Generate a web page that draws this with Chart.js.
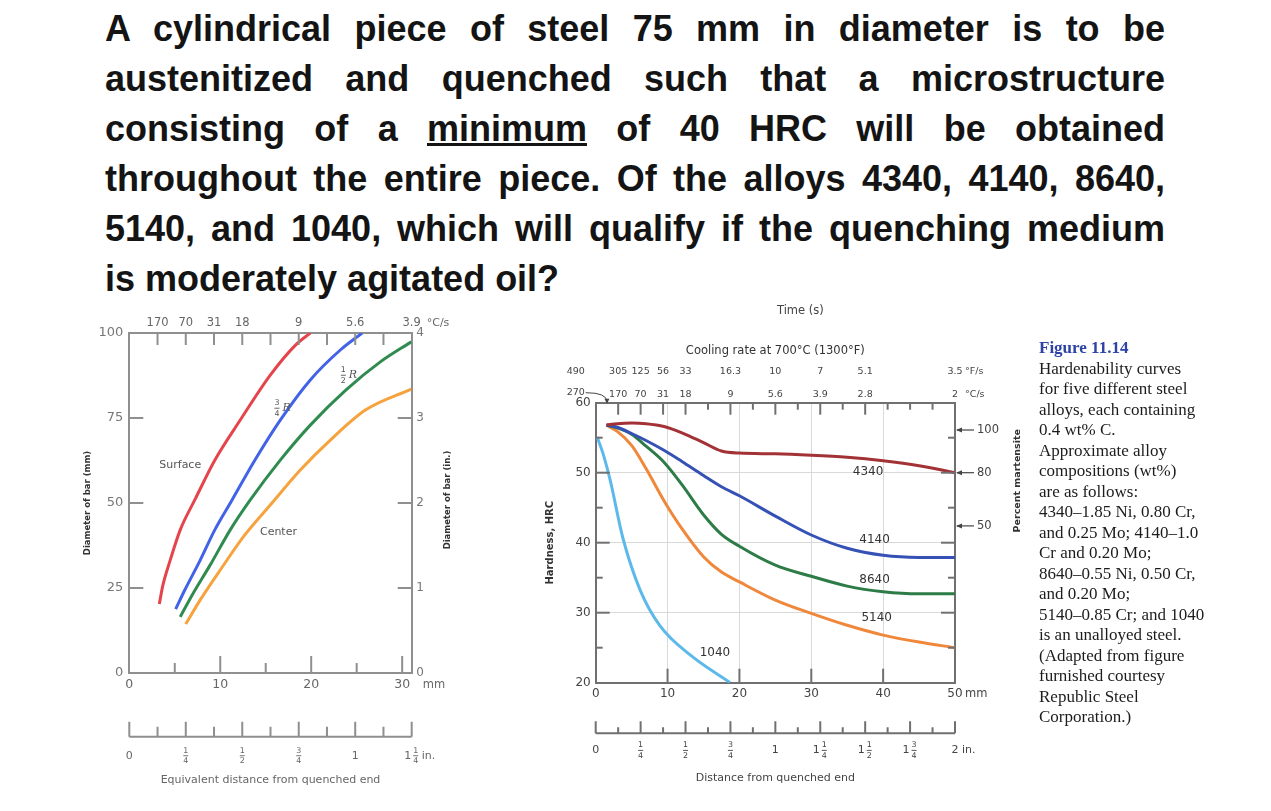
<!DOCTYPE html>
<html lang="en">
<head>
<meta charset="UTF-8">
<meta name="viewport" content="width=device-width, initial-scale=1.0">
<title>Hardenability curves</title>
<script src="https://cdn.jsdelivr.net/npm/chart.js"></script>
<style>
  body { margin: 0; width: 1271px; height: 811px; background: #fff; position: relative; overflow: hidden; }
  #question { position: absolute; left: 105px; top: 4px; width: 1060px; font-family: "Liberation Sans", Arial, sans-serif;
              font-weight: bold; font-size: 36px; line-height: 50px; color: #141414; }
  #question div { text-align: justify; text-align-last: justify; }
  #question div.last { text-align-last: left; }
  canvas { position: absolute; }
  #leftChart { left: 60px; top: 290px; }
  #rightChart { left: 520px; top: 290px; }
  #caption { position: absolute; left: 1039px; top: 338px; font-family: "Liberation Serif", "DejaVu Serif", serif;
             font-size: 17px; line-height: 20.5px; color: #1c1c1c; white-space: nowrap; }
  #caption .fig { color: #2d43a6; font-weight: bold; }
</style>
</head>
<body>

<div id="question">
  <div>A cylindrical piece of steel 75 mm in diameter is to be</div>
  <div>austenitized and quenched such that a microstructure</div>
  <div>consisting of a <u>minimum</u> of 40 HRC will be obtained</div>
  <div>throughout the entire piece. Of the alloys 4340, 4140, 8640,</div>
  <div>5140, and 1040, which will qualify if the quenching medium</div>
  <div class="last">is moderately agitated oil?</div>
</div>

<canvas id="leftChart" width="430" height="521"></canvas>
<canvas id="rightChart" width="520" height="521"></canvas>

<div id="caption"><span class="fig">Figure 11.14</span><br>
Hardenability curves<br>
for five different steel<br>
alloys, each containing<br>
0.4 wt% C.<br>
Approximate alloy<br>
compositions (wt%)<br>
are as follows:<br>
4340–1.85 Ni, 0.80 Cr,<br>
and 0.25 Mo; 4140–1.0<br>
Cr and 0.20 Mo;<br>
8640–0.55 Ni, 0.50 Cr,<br>
and 0.20 Mo;<br>
5140–0.85 Cr; and 1040<br>
is an unalloyed steel.<br>
(Adapted from figure<br>
furnished courtesy<br>
Republic Steel<br>
Corporation.)</div>

<script>
// ---- left figure: bar diameter vs equivalent distance from quenched end ----
const leftCurveNames = ['Surface', '3/4 R', '1/2 R', 'Center'];
const surfaceMm  = [3.3, 3.7, 4.5, 5.6, 7.2, 9.4, 12.2, 15.5, 18.3, 19.9];
const surfaceDia = [20.3, 25.9, 33.2, 42.1, 50.9, 62.6, 74.4, 87.6, 96.5, 100];
const threeQuarterMm  = [5.1, 6.1, 7.8, 9.4, 11.3, 13.8, 16.6, 19.9, 23.2, 25.6];
const threeQuarterDia = [18.8, 24.4, 33.2, 42.1, 50.9, 62.6, 74.4, 86.2, 95.0, 100];
const halfMm  = [5.6, 6.9, 8.9, 11.1, 13.3, 16.6, 19.9, 23.8, 27.6, 31.0];
const halfDia = [16.5, 22.9, 31.8, 42.1, 50.9, 62.6, 72.9, 83.2, 91.5, 97.4];
const centerMm  = [6.2, 7.8, 10.0, 12.7, 15.5, 18.8, 22.1, 26.0, 31.0];
const centerDia = [14.4, 21.5, 30.3, 40.6, 49.4, 59.7, 68.5, 77.4, 83.5];

const leftMmTicks = [0, 10, 20, 30];
const leftDiaTicks = [0, 25, 50, 75, 100];
const leftInchTicks = [0, 1, 2, 3, 4];
const leftEighths = [0.125, 0.25, 0.375, 0.5, 0.625, 0.75, 0.875, 1, 1.125, 1.25];
const leftRateC = ['170', '70', '31', '18', '', '9', '', '5.6', '', '3.9'];
const leftRulerMajor = [0, 0.25, 0.5, 0.75, 1, 1.25];
const leftRulerMinor = [0.125, 0.375, 0.625, 0.875, 1.125];
const leftRulerLabels = ['0', '1/4', '1/2', '3/4', '1', '1 1/4'];

// ---- right figure: Jominy hardness curves ----
const alloyNames = ['4340', '4140', '8640', '5140', '1040'];
const jominyMm = [1.5, 3, 5, 7, 9.5, 12, 15, 17.5, 20, 25, 30, 35, 40, 45, 50];
const hrc4340 = [56.8, 57.0, 57.1, 57.0, 56.6, 55.7, 54.3, 53.1, 52.8, 52.7, 52.5, 52.2, 51.7, 51.0, 50.0];
const hrc4140 = [56.8, 56.5, 55.6, 54.6, 53.2, 51.6, 49.6, 48.0, 46.7, 43.8, 41.1, 39.2, 38.2, 37.9, 37.9];
const hrc8640 = [56.8, 56.4, 55.5, 53.8, 51.5, 48.3, 44.0, 41.2, 39.5, 36.8, 35.2, 33.8, 33.0, 32.7, 32.7];
const hrc5140 = [56.8, 55.9, 53.9, 50.6, 46.0, 42.0, 38.0, 35.8, 34.4, 31.8, 29.9, 28.2, 26.8, 25.8, 25.0];
const mm1040  = [0.2, 1.0, 2.0, 3.8, 6.2, 8.9, 13.1, 18.7];
const hrc1040 = [55.1, 52.8, 49.0, 40.6, 33.2, 28.2, 24.0, 20.0];

const rightMmTicks = [0, 10, 20, 30, 40, 50];
const hrcTicks = [20, 30, 40, 50, 60];
const hrcMinor = [25, 35, 45, 55];
const rightEighths = [0.125, 0.25, 0.375, 0.5, 0.625, 0.75, 0.875, 1, 1.125, 1.25, 1.375, 1.5, 1.625, 1.75, 1.875, 2];
const rightRateF = ['305', '125', '56', '33', '', '16.3', '', '10', '', '7', '', '5.1', '', '', '', '3.5'];
const rightRateC = ['170', '70', '31', '18', '', '9', '', '5.6', '', '3.9', '', '2.8', '', '', '', '2'];
const quenchEndRate = ['490', '270'];
const martensitePct = ['100', '80', '50'];
const martensiteHrc = [56.1, 50, 42.4];
const rightRulerMajor = [0, 0.25, 0.5, 0.75, 1, 1.25, 1.5, 1.75, 2];
const rightRulerMinor = [0.125, 0.375, 0.625, 0.875, 1.125, 1.375, 1.625, 1.875];
const rightRulerLabels = ['0', '1/4', '1/2', '3/4', '1', '1 1/4', '1 1/2', '1 3/4', '2'];

Chart.defaults.font.family = '"DejaVu Sans", sans-serif';

function points(xs, ys) { return xs.map((x, i) => ({ x: x, y: ys[i] })); }
function curve(xs, ys, color) {
  return { data: points(xs, ys), borderColor: color, borderWidth: 3, pointRadius: 0, fill: false,
           cubicInterpolationMode: 'monotone' };
}
function fixWidth(w) { return function (s) { s.width = w; }; }
function fixHeight(h) { return function (s) { s.height = h; }; }
function tickList(values) { return function (s) { s.ticks = values.map(v => ({ value: v })); }; }

// labels like "1 3/4", "1/2" or "3/4 R" with a stacked fraction
function drawFrac(ctx, label, x, y, size, color) {
  let whole = '', frac = null, suffix = '';
  label.split(' ').forEach(t => {
    if (t.indexOf('/') > 0) frac = t.split('/');
    else if (frac) suffix = t;
    else whole = t;
  });
  const fs = size * 0.72;
  const big = size + 'px "DejaVu Sans"';
  const small = fs + 'px "DejaVu Sans"';
  const ital = 'italic ' + size + 'px "DejaVu Serif"';
  ctx.font = big;
  const ww = whole ? ctx.measureText(whole).width + (frac ? 1 : 0) : 0;
  ctx.font = small;
  const fw = frac ? Math.max(ctx.measureText(frac[0]).width, ctx.measureText(frac[1]).width) + 2 : 0;
  ctx.font = ital;
  const sw = suffix ? ctx.measureText(suffix).width + 2 : 0;
  let cx = x - (ww + fw + sw) / 2;
  ctx.fillStyle = color;
  ctx.textBaseline = 'middle';
  if (whole) { ctx.font = big; ctx.textAlign = 'left'; ctx.fillText(whole, cx, y); cx += ww; }
  if (frac) {
    ctx.font = small; ctx.textAlign = 'center';
    ctx.fillText(frac[0], cx + fw / 2, y - fs * 0.62);
    ctx.fillText(frac[1], cx + fw / 2, y + fs * 0.7);
    ctx.fillRect(cx + 1, y - 0.4, fw - 2, 0.9);
    cx += fw;
  }
  if (suffix) { ctx.font = ital; ctx.textAlign = 'left'; ctx.fillText(suffix, cx + 2, y); }
}

function vText(ctx, text, x, y, font, color) {
  ctx.save();
  ctx.translate(x, y);
  ctx.rotate(-Math.PI / 2);
  ctx.font = font; ctx.fillStyle = color;
  ctx.textAlign = 'center'; ctx.textBaseline = 'middle';
  ctx.fillText(text, 0, 0);
  ctx.restore();
}

// tick marks pointing into the plot
const innerTicks = {
  id: 'innerTicks',
  afterDatasetsDraw(chart, args, o) {
    const ctx = chart.ctx, a = chart.chartArea;
    ctx.save();
    ctx.strokeStyle = o.color;
    ctx.lineWidth = o.width;
    o.marks.forEach(m => {
      const s = chart.scales[m.scale];
      m.values.forEach(v => {
        const p = s.getPixelForValue(v);
        ctx.beginPath();
        if (s.position === 'bottom') { ctx.moveTo(p, a.bottom); ctx.lineTo(p, a.bottom - m.len); }
        else if (s.position === 'top') { ctx.moveTo(p, a.top); ctx.lineTo(p, a.top + m.len); }
        else if (s.position === 'left') { ctx.moveTo(a.left, p); ctx.lineTo(a.left + m.len, p); }
        else { ctx.moveTo(a.right, p); ctx.lineTo(a.right - m.len, p); }
        ctx.stroke();
      });
    });
    ctx.restore();
  }
};

// separate inch ruler under the plot
const inchRuler = {
  id: 'inchRuler',
  afterDraw(chart, args, o) {
    const ctx = chart.ctx, a = chart.chartArea;
    const s = chart.scales[o.scale];
    const y = a.bottom + o.offset;
    ctx.save();
    ctx.strokeStyle = o.color;
    ctx.lineWidth = o.width;
    ctx.beginPath();
    ctx.moveTo(s.getPixelForValue(s.min), y);
    ctx.lineTo(s.getPixelForValue(s.max), y);
    o.major.forEach(v => { const p = s.getPixelForValue(v); ctx.moveTo(p, y); ctx.lineTo(p, y - o.majorLen); });
    o.minor.forEach(v => { const p = s.getPixelForValue(v); ctx.moveTo(p, y); ctx.lineTo(p, y - o.minorLen); });
    ctx.stroke();
    o.major.forEach((v, i) => drawFrac(ctx, o.labels[i], s.getPixelForValue(v), y + o.labelGap, o.fontSize, o.textColor));
    ctx.font = o.fontSize + 'px "DejaVu Sans"';
    ctx.textAlign = 'left';
    ctx.fillText(o.unit, s.getPixelForValue(s.max) + o.unitGap, y + o.labelGap);
    ctx.font = o.titleSize + 'px "DejaVu Sans"';
    ctx.textAlign = 'center';
    ctx.fillText(o.title, (a.left + a.right) / 2, y + o.titleGap);
    ctx.restore();
  }
};

const leftExtras = {
  id: 'leftExtras',
  afterDraw(chart, args, o) {
    const ctx = chart.ctx, a = chart.chartArea;
    const sx = chart.scales.x, sy = chart.scales.y;
    ctx.save();
    ctx.fillStyle = '#666';
    ctx.textBaseline = 'middle';
    ctx.textAlign = 'left';
    ctx.font = '11px "DejaVu Sans"';
    ctx.fillText('°C/s', a.right + 15, a.top - 10);
    ctx.font = '11.5px "DejaVu Sans"';
    ctx.fillText('mm', a.right + 11, a.bottom + 12);
    leftCurveNames.forEach((name, i) => {
      const at = o.labelAt[i];
      drawFrac(ctx, name, sx.getPixelForValue(at[0]), sy.getPixelForValue(at[1]), 11, '#555');
    });
    vText(ctx, 'Diameter of bar (in.)', a.right + 36, (a.top + a.bottom) / 2 - 3, 'bold 8.5px "DejaVu Sans"', '#333');
    ctx.restore();
  }
};

const rightExtras = {
  id: 'rightExtras',
  afterDraw(chart, args, o) {
    const ctx = chart.ctx, a = chart.chartArea;
    const sx = chart.scales.x, sy = chart.scales.y, st = chart.scales.xt;
    ctx.save();
    ctx.fillStyle = '#444';
    ctx.strokeStyle = '#444';
    ctx.textBaseline = 'middle';
    ctx.font = '9.5px "DejaVu Sans"';
    ctx.textAlign = 'center';
    rightEighths.forEach((v, i) => {
      if (rightRateF[i]) ctx.fillText(rightRateF[i], st.getPixelForValue(v), a.top - 31);
    });
    const x0 = st.getPixelForValue(0);
    ctx.fillText(quenchEndRate[0], x0 - 20, a.top - 31);
    ctx.fillText(quenchEndRate[1], x0 - 20, a.top - 10);
    // hook arrow from the 270 label down to the first measured point
    const xe = st.getPixelForValue(0.0625);
    ctx.lineWidth = 1;
    ctx.beginPath();
    ctx.moveTo(x0 - 10, a.top - 10);
    ctx.quadraticCurveTo(xe, a.top - 10, xe, a.top - 1);
    ctx.stroke();
    ctx.beginPath();
    ctx.moveTo(xe - 2.5, a.top - 4); ctx.lineTo(xe + 2.5, a.top - 4); ctx.lineTo(xe, a.top + 1);
    ctx.fill();
    ctx.textAlign = 'left';
    ctx.fillText('°F/s', a.right + 10, a.top - 31);
    ctx.fillText('°C/s', a.right + 10, a.top - 8);
    ctx.font = '11.5px "DejaVu Sans"';
    ctx.fillText('mm', a.right + 10, a.bottom + 11);
    ctx.textAlign = 'center';
    ctx.fillText('Time (s)', (a.left + a.right) / 2 + 25, a.top - 92);
    // percent martensite markers
    ctx.font = '11.5px "DejaVu Sans"';
    ctx.textAlign = 'left';
    martensiteHrc.forEach((h, i) => {
      const y = sy.getPixelForValue(h);
      ctx.lineWidth = 1.2;
      ctx.beginPath(); ctx.moveTo(a.right + 2, y); ctx.lineTo(a.right + 19, y); ctx.stroke();
      ctx.beginPath(); ctx.moveTo(a.right + 1, y); ctx.lineTo(a.right + 7, y - 2.5); ctx.lineTo(a.right + 7, y + 2.5); ctx.fill();
      ctx.fillText(martensitePct[i], a.right + 22, y);
    });
    vText(ctx, 'Percent martensite', a.right + 63, (a.top + a.bottom) / 2 - 62, 'bold 9.5px "DejaVu Sans"', '#333');
    ctx.font = '12px "DejaVu Sans"';
    ctx.fillStyle = '#333';
    ctx.textAlign = 'center';
    alloyNames.forEach((name, i) => {
      const at = o.labelAt[i];
      ctx.fillText(name, sx.getPixelForValue(at[0]), sy.getPixelForValue(at[1]));
    });
    ctx.restore();
  }
};

const frameL = '#8f8f8f';
const frameR = '#707070';
const noGrid = { display: false, drawTicks: false };

new Chart(document.getElementById('leftChart'), {
  type: 'line',
  data: {
    datasets: [
      curve(surfaceMm, surfaceDia, '#e4454c'),
      curve(threeQuarterMm, threeQuarterDia, '#4262e8'),
      curve(halfMm, halfDia, '#2f8b4f'),
      curve(centerMm, centerDia, '#f6a23d')
    ]
  },
  options: {
    responsive: false,
    animation: false,
    layout: { padding: 0 },
    plugins: {
      legend: { display: false },
      tooltip: { enabled: false },
      innerTicks: {
        color: frameL, width: 2,
        marks: [
          { scale: 'x', values: [10, 20, 30], len: 17 },
          { scale: 'x', values: [5, 15, 25], len: 10 },
          { scale: 'y', values: [25, 50, 75], len: 14 },
          { scale: 'y2', values: [1, 2, 3], len: 14 },
          { scale: 'xt', values: leftEighths.slice(0, -1), len: 12 }
        ]
      },
      inchRuler: {
        scale: 'xin', offset: 63.7, color: frameL, width: 2, majorLen: 15, minorLen: 10,
        major: leftRulerMajor, minor: leftRulerMinor, labels: leftRulerLabels,
        labelGap: 19, fontSize: 11, textColor: '#666', unit: 'in.', unitGap: 10,
        title: 'Equivalent distance from quenched end', titleGap: 43, titleSize: 11
      },
      leftExtras: { labelAt: [[5.6, 61.2], [16.8, 77.9], [24.1, 87.6], [16.4, 41.5]] }
    },
    scales: {
      x: {
        type: 'linear', position: 'bottom', min: 0, max: 31.05,
        grid: noGrid, border: { color: frameL, width: 2 },
        ticks: { color: '#666', font: { size: 12.5 }, padding: 4.5, maxRotation: 0, autoSkip: false },
        afterBuildTicks: tickList(leftMmTicks), afterFit: fixHeight(138)
      },
      xin: { type: 'linear', position: 'bottom', min: 0, max: 1.25, display: false },
      xt: {
        type: 'linear', position: 'top', min: 0, max: 1.25,
        grid: noGrid, border: { color: frameL, width: 2 },
        ticks: { color: '#666', font: { size: 11.5 }, padding: 3, maxRotation: 0, autoSkip: false,
                 callback: (v, i) => leftRateC[i] },
        afterBuildTicks: tickList(leftEighths), afterFit: fixHeight(43)
      },
      y: {
        type: 'linear', position: 'left', min: 0, max: 100,
        grid: noGrid, border: { color: frameL, width: 2 },
        ticks: { color: '#777', font: { size: 13 }, padding: 6 },
        title: { display: true, text: 'Diameter of bar (mm)', color: '#333',
                 font: { size: 8.5, weight: 'bold' }, padding: { top: 23, bottom: 0 } },
        afterBuildTicks: tickList(leftDiaTicks), afterFit: fixWidth(69.3)
      },
      y2: {
        type: 'linear', position: 'right', min: 0, max: 4,
        grid: noGrid, border: { color: frameL, width: 2 },
        ticks: { color: '#777', font: { size: 12 }, padding: 4.5 },
        afterBuildTicks: tickList(leftInchTicks), afterFit: fixWidth(78.3)
      }
    }
  },
  plugins: [innerTicks, inchRuler, leftExtras]
});

new Chart(document.getElementById('rightChart'), {
  type: 'line',
  data: {
    datasets: [
      curve(jominyMm, hrc4340, '#a33236'),
      curve(jominyMm, hrc4140, '#3551b6'),
      curve(jominyMm, hrc8640, '#2d7b46'),
      curve(jominyMm, hrc5140, '#f0883b'),
      curve(mm1040, hrc1040, '#5cb9ea')
    ]
  },
  options: {
    responsive: false,
    animation: false,
    layout: { padding: 0 },
    plugins: {
      legend: { display: false },
      tooltip: { enabled: false },
      innerTicks: {
        color: frameR, width: 2,
        marks: [
          { scale: 'x', values: [10, 20, 30, 40], len: 14 },
          { scale: 'y', values: [30, 40, 50], len: 14 },
          { scale: 'y', values: hrcMinor, len: 7 },
          { scale: 'y2', values: [30, 40, 50], len: 14 },
          { scale: 'y2', values: hrcMinor, len: 7 },
          { scale: 'xt', values: rightEighths.filter((v, i) => rightRateC[i] && v < 2), len: 12 },
          { scale: 'xt', values: rightEighths.filter((v, i) => !rightRateC[i]), len: 7 }
        ]
      },
      inchRuler: {
        scale: 'xin', offset: 50.6, color: frameR, width: 2, majorLen: 12, minorLen: 6,
        major: rightRulerMajor, minor: rightRulerMinor, labels: rightRulerLabels,
        labelGap: 17, fontSize: 11, textColor: '#444', unit: 'in.', unitGap: 7,
        title: 'Distance from quenched end', titleGap: 45, titleSize: 11
      },
      rightExtras: { labelAt: [[37.9, 50.1], [38.8, 40.4], [38.8, 34.7], [39.1, 29.2], [16.6, 24.2]] }
    },
    scales: {
      x: {
        type: 'linear', position: 'bottom', min: 0, max: 50,
        grid: { display: true, drawTicks: false, color: '#d9d9d9', lineWidth: 1 },
        border: { color: frameR, width: 2 },
        ticks: { color: '#444', font: { size: 12 }, padding: 4, maxRotation: 0, autoSkip: false },
        afterBuildTicks: tickList(rightMmTicks), afterFit: fixHeight(128.3)
      },
      xin: { type: 'linear', position: 'bottom', min: 0, max: 2, display: false },
      xt: {
        type: 'linear', position: 'top', min: 0, max: 2,
        grid: noGrid, border: { color: frameR, width: 2 },
        ticks: { color: '#444', font: { size: 9.5 }, padding: 2, maxRotation: 0, autoSkip: false,
                 callback: (v, i) => rightRateC[i] },
        title: { display: true, text: 'Cooling rate at 700°C (1300°F)', color: '#333',
                 font: { size: 11.5 }, padding: { top: 54, bottom: 0 } },
        afterBuildTicks: tickList(rightEighths), afterFit: fixHeight(112.7)
      },
      y: {
        type: 'linear', position: 'left', min: 20, max: 60,
        grid: { display: true, drawTicks: false, color: '#d9d9d9', lineWidth: 1 },
        border: { color: frameR, width: 2 },
        ticks: { color: '#444', font: { size: 12 }, padding: 5 },
        title: { display: true, text: 'Hardness, HRC', color: '#333',
                 font: { size: 10, weight: 'bold' }, padding: { top: 24, bottom: 0 } },
        afterBuildTicks: tickList(hrcTicks), afterFit: fixWidth(75.7)
      },
      y2: {
        type: 'linear', position: 'right', min: 20, max: 60,
        grid: noGrid, border: { color: frameR, width: 2 },
        ticks: { display: false },
        afterFit: fixWidth(85)
      }
    }
  },
  plugins: [innerTicks, inchRuler, rightExtras]
});
</script>
</body>
</html>
